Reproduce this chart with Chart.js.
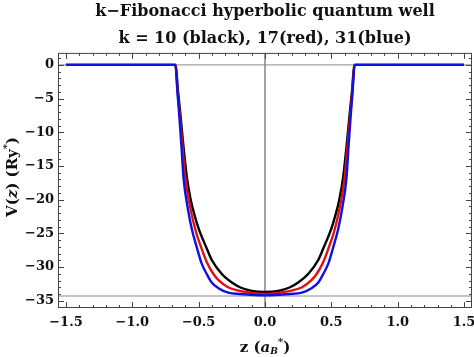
<!DOCTYPE html>
<html><head><meta charset="utf-8">
<script src="https://cdn.jsdelivr.net/npm/chart.js@4/dist/chart.umd.min.js"></script>
<style>html,body{margin:0;padding:0;background:#fff}</style>
</head><body>
<canvas id="c" width="474" height="357"></canvas>
<script>
// ---- data ----
const titleLines = ['k\u2212Fibonacci hyperbolic quantum well', 'k = 10 (black), 17(red), 31(blue)'];
const zBlack = [-1.5,-0.675,-0.655,-0.637,-0.615,-0.59,-0.56,-0.528,-0.5,-0.44,-0.4,-0.327,-0.25,-0.189,-0.1,0,0.1,0.189,0.25,0.327,0.4,0.44,0.5,0.528,0.56,0.59,0.615,0.637,0.655,0.675,1.5];
const vBlack = [0,0,-4.0,-7.5,-12.0,-16.5,-20.0,-22.5,-24.3,-27.2,-29.0,-31.0,-32.3,-33.0,-33.55,-33.7,-33.55,-33.0,-32.3,-31.0,-29.0,-27.2,-24.3,-22.5,-20.0,-16.5,-12.0,-7.5,-4.0,0,0];
const zRed = [-1.5,-0.675,-0.658,-0.642,-0.622,-0.6,-0.56,-0.52,-0.477,-0.44,-0.39,-0.352,-0.279,-0.2,-0.113,0,0.113,0.2,0.279,0.352,0.39,0.44,0.477,0.52,0.56,0.6,0.622,0.642,0.658,0.675,1.5];
const vRed = [0,0,-4.0,-7.5,-12.0,-16.8,-21.5,-24.8,-27.3,-29.2,-31.0,-31.9,-33.0,-33.5,-33.8,-34.0,-33.8,-33.5,-33.0,-31.9,-31.0,-29.2,-27.3,-24.8,-21.5,-16.8,-12.0,-7.5,-4.0,0,0];
const zBlue = [-1.5,-0.675,-0.66,-0.646,-0.63,-0.614,-0.58,-0.55,-0.515,-0.477,-0.44,-0.402,-0.354,-0.277,-0.189,0,0.189,0.277,0.354,0.402,0.44,0.477,0.515,0.55,0.58,0.614,0.63,0.646,0.66,0.675,1.5];
const vBlue = [0,0,-4.0,-7.5,-12.0,-16.8,-21.5,-24.5,-27.0,-29.5,-31.0,-32.3,-33.1,-33.8,-34.0,-34.2,-34.0,-33.8,-33.1,-32.3,-31.0,-29.5,-27.0,-24.5,-21.5,-16.8,-12.0,-7.5,-4.0,0,0];
const refLevel = -34.3;
const xTicks = [-1.5,-1.0,-0.5,0,0.5,1.0,1.5];
const xTickLabels = ['\u22121.5','\u22121.0','\u22120.5','0.0','0.5','1.0','1.5'];
const yTicks = [0,-5,-10,-15,-20,-25,-30,-35];
const yTickLabels = ['0','\u22125','\u221210','\u221215','\u221220','\u221225','\u221230','\u221235'];
const xRange = [-1.56, 1.56];
const yRange = [-36.08, 1.78];

const SERIF = "'DejaVu Serif', 'Liberation Serif', serif";
const pts = (zs, vs) => zs.map((z, i) => ({x: z, y: vs[i]}));

function drawRuns(ctx, runs, cx, cy, rot) {
  ctx.save();
  ctx.translate(cx, cy);
  if (rot) ctx.rotate(rot);
  let total = 0;
  runs.forEach(r => { ctx.font = r.f; r.w = ctx.measureText(r.t).width; total += r.w + (r.gap || 0); });
  let x = -total / 2;
  ctx.fillStyle = '#111';
  ctx.textBaseline = 'middle';
  ctx.textAlign = 'left';
  runs.forEach(r => { ctx.font = r.f; ctx.fillText(r.t, x, r.dy || 0); x += r.w + (r.gap || 0); });
  ctx.restore();
}

const framePlugin = {
  id: 'frame',
  afterDraw(chart) {
    const {ctx, chartArea: a, scales: {x, y}} = chart;
    ctx.save();
    ctx.strokeStyle = '#444';
    ctx.lineWidth = 1;
    ctx.strokeRect(a.left + 0.5, a.top + 0.5, a.right - a.left - 1, a.bottom - a.top - 1);
    ctx.beginPath();
    for (let i = -15; i <= 15; i++) {
      const v = i / 10;
      const px = Math.round(x.getPixelForValue(v)) + 0.5;
      const len = (i % 5 === 0) ? 6 : 3;
      ctx.moveTo(px, a.bottom); ctx.lineTo(px, a.bottom - len);
      ctx.moveTo(px, a.top); ctx.lineTo(px, a.top + len);
    }
    for (let v = -36; v <= 1; v++) {
      const py = Math.round(y.getPixelForValue(v)) + 0.5;
      const len = (v % 5 === 0) ? 6 : 3;
      ctx.moveTo(a.left, py); ctx.lineTo(a.left + len, py);
      ctx.moveTo(a.right, py); ctx.lineTo(a.right - len, py);
    }
    ctx.stroke();
    ctx.restore();
    // axis titles
    drawRuns(ctx, [
      {t: 'z ', f: `bold 15px ${SERIF}`},
      {t: '(', f: `bold 15px ${SERIF}`},
      {t: 'a', f: `italic bold 15px ${SERIF}`},
      {t: 'B', f: `italic bold 9px ${SERIF}`, dy: 4},
      {t: '*', f: `bold 10px ${SERIF}`, dy: -6},
      {t: ')', f: `bold 15px ${SERIF}`}
    ], (a.left + a.right) / 2, 348, 0);
    drawRuns(ctx, [
      {t: 'V', f: `bold 15px ${SERIF}`},
      {t: '(', f: `bold 15px ${SERIF}`},
      {t: 'z', f: `italic bold 15px ${SERIF}`},
      {t: ') (Ry', f: `bold 15px ${SERIF}`},
      {t: '*', f: `bold 10px ${SERIF}`, dy: -6},
      {t: ')', f: `bold 15px ${SERIF}`}
    ], 13, 177, -Math.PI / 2);
  }
};

const refLine = (data, color, w) => ({data, borderColor: color, borderWidth: w, pointRadius: 0, order: 10, tension: 0});

new Chart(document.getElementById('c'), {
  type: 'line',
  data: {
    datasets: [
      {label: 'k=10', data: pts(zBlack, vBlack), borderColor: '#000000', borderWidth: 2.4, pointRadius: 0, cubicInterpolationMode: 'monotone', order: 3},
      {label: 'k=17', data: pts(zRed, vRed), borderColor: '#e01010', borderWidth: 2.4, pointRadius: 0, cubicInterpolationMode: 'monotone', order: 2},
      {label: 'k=31', data: pts(zBlue, vBlue), borderColor: '#1010e0', borderWidth: 2.4, pointRadius: 0, cubicInterpolationMode: 'monotone', order: 1},
      refLine([{x: xRange[0], y: 0}, {x: xRange[1], y: 0}], '#8a8a8a', 1),
      refLine([{x: xRange[0], y: refLevel}, {x: xRange[1], y: refLevel}], '#8a8a8a', 1.2),
      refLine([{x: 0, y: yRange[0]}, {x: 0, y: yRange[1]}], '#666666', 1.2)
    ]
  },
  options: {
    responsive: false,
    animation: false,
    layout: {padding: {top: 0, right: 2, left: 0, bottom: 0}},
    plugins: {
      legend: {display: false},
      tooltip: {enabled: false},
      title: {
        display: true,
        fullSize: false,
        text: titleLines,
        color: '#111',
        font: {family: SERIF, size: 16, weight: 'bold', lineHeight: 1.7},
        padding: {top: -1.5, bottom: 0}
      }
    },
    scales: {
      x: {
        type: 'linear', min: xRange[0], max: xRange[1],
        grid: {display: false, drawTicks: false},
        border: {display: false},
        afterBuildTicks: s => { s.ticks = xTicks.map(v => ({value: v})); },
        ticks: {
          padding: 7, color: '#111', maxRotation: 0, autoSkip: false,
          font: {family: SERIF, size: 13, weight: 'bold'},
          callback: (v) => { const i = xTicks.findIndex(t => Math.abs(t - v) < 1e-9); return i >= 0 ? xTickLabels[i] : ''; }
        },
        afterFit: s => { s.height = 49; s.paddingLeft = 0; s.paddingRight = 0; }
      },
      y: {
        type: 'linear', min: yRange[0], max: yRange[1],
        grid: {display: false, drawTicks: false},
        border: {display: false},
        afterBuildTicks: s => { s.ticks = yTicks.map(v => ({value: v})); },
        ticks: {
          padding: 4, color: '#111', autoSkip: false,
          font: {family: SERIF, size: 13, weight: 'bold'},
          callback: (v) => { const i = yTicks.findIndex(t => Math.abs(t - v) < 1e-9); return i >= 0 ? yTickLabels[i] : ''; }
        },
        afterFit: s => { s.width = 58; s.paddingTop = 0; s.paddingBottom = 0; }
      }
    }
  },
  plugins: [framePlugin]
});
</script>
</body></html>
